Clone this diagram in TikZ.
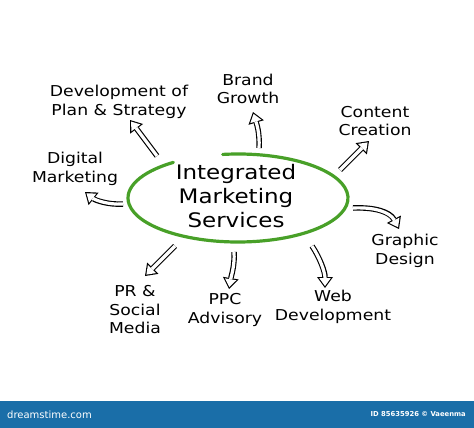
\documentclass[tikz,border=0pt]{standalone}
\usepackage{fontspec}
\setmainfont{DejaVu Sans}[FakeStretch=1.15]
\newfontfamily\barfont{DejaVu Sans}
\usetikzlibrary{arrows.meta,shapes.geometric}
\definecolor{ringgreen}{RGB}{72,160,40}
\definecolor{barblue}{RGB}{26,110,168}
\tikzset{
  lbl/.style={align=center, font=\fontsize{15}{18.5}\selectfont, inner sep=0pt},
  mainlbl/.style={align=center, font=\fontsize{20}{24}\selectfont, inner sep=0pt},
  hout/.style={line width=5.5pt, black, -{Triangle[length=11pt,width=16pt,line width=0pt]}},
  hin/.style={line width=3.2pt, white, shorten >=1.96pt, -{Triangle[length=7.9pt,width=11.5pt,line width=0pt]}},
  ring/.style={ringgreen, line width=3.2pt, line cap=round},
}
\newcommand{\harrow}[1]{\draw[hout] #1; \draw[hin] #1;}
\begin{document}
\begin{tikzpicture}[x=1pt,y=-1pt]
\useasboundingbox (0,0) rectangle (474,428);
% central ring
\node[mainlbl] (core) at (236,196) {Integrated\\Marketing\\Services};
\draw[ring] (238,198) ++(262:110 and 44) arc[start angle=262, end angle=594, x radius=110, y radius=44];
% labels
\node[lbl] (brand) at (248,89) {Brand\\Growth};
\node[lbl] (dev) at (119,102) {Development of\\Plan \& Strategy};
\node[lbl] (content) at (375,121) {Content\\Creation};
\node[lbl] (digital) at (75,169) {Digital\\Marketing};
\node[lbl] (graphic) at (405,251) {Graphic\\Design};
\node[lbl] (pr) at (135,310) {PR \&\\Social\\Media};
\node[lbl] (ppc) at (225,310) {PPC\\Advisory};
\node[lbl] (web) at (333,307) {Web\\Development};
% arrow anchors
\coordinate (a1s) at (157,156); \coordinate (a1e) at (130,120);
\coordinate (a2s) at (259,148); \coordinate (a2e) at (253,112);
\coordinate (a3s) at (340,170); \coordinate (a3e) at (369,141);
\coordinate (a4s) at (123,204); \coordinate (a4e) at (85,192);
\coordinate (a5s) at (353,208); \coordinate (a5e) at (399,229);
\coordinate (a6s) at (175,246); \coordinate (a6e) at (145,276);
\coordinate (a7s) at (234,252); \coordinate (a7e) at (229,289);
\coordinate (a8s) at (312,246); \coordinate (a8e) at (325,288);
\harrow{(a1s) -- (a1e)}
\harrow{(a2s) .. controls (260,132) and (256,122) .. (a2e)}
\harrow{(a3s) -- (a3e)}
\harrow{(a4s) .. controls (108,205) and (95,200) .. (a4e)}
\harrow{(a5s) .. controls (375,207) and (390,212) .. (a5e)}
\harrow{(a6s) -- (a6e)}
\harrow{(a7s) .. controls (235,265) and (231,277) .. (a7e)}
\harrow{(a8s) .. controls (320,258) and (325,272) .. (a8e)}
% bottom bar
\fill[barblue] (0,401) rectangle (474,428);
\node[anchor=west, white, font=\barfont\fontsize{10}{11}\selectfont, inner sep=0pt] (brandmark) at (7,415) {dreamstime.com};
\node[anchor=east, white, font=\barfont\bfseries\fontsize{6.8}{8}\selectfont, inner sep=0pt] (credit) at (466,414) {ID 85635926 © Vaeenma};
\end{tikzpicture}
\end{document}
